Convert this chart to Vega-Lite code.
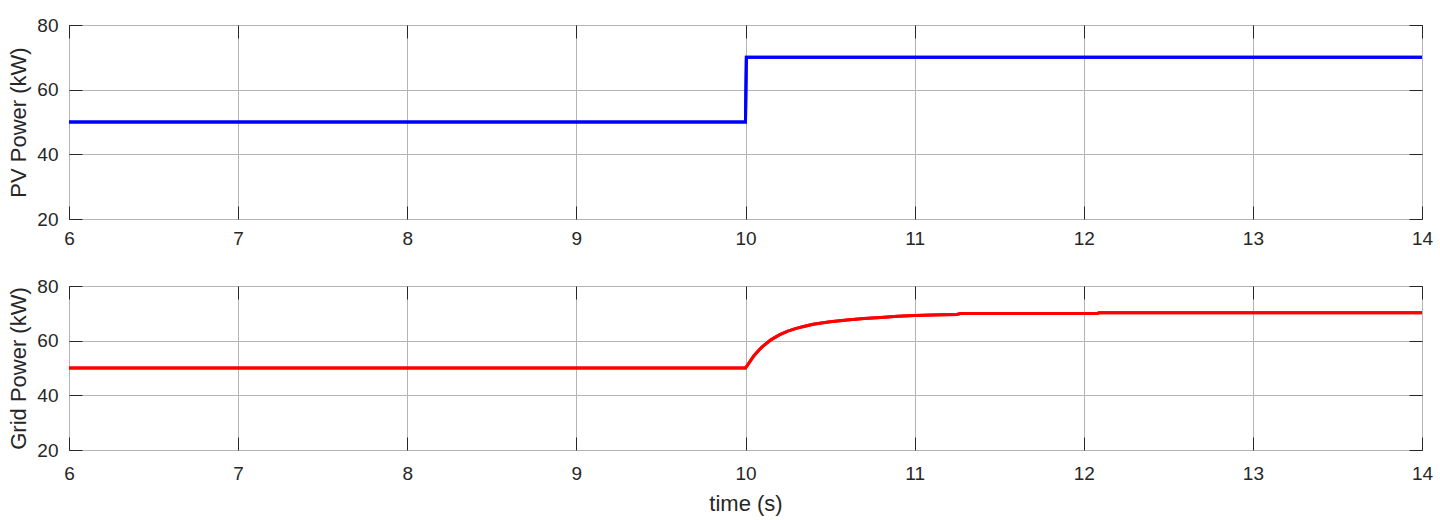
{
  "$schema": "https://vega.github.io/schema/vega-lite/v6.json",
  "background": "white",
  "padding": {"left": 6, "top": 15, "right": 5, "bottom": 5},
  "bounds": "flush",
  "spacing": 67,
  "config": {
    "view": {"stroke": "#262626", "strokeWidth": 1},
    "font": "Liberation Sans",
    "axis": {
      "labelFont": "Liberation Sans",
      "labelFontSize": 19,
      "labelColor": "#262626",
      "labelFlush": false,
      "titleFont": "Liberation Sans",
      "titleFontSize": 22,
      "titleFontWeight": "normal",
      "titleColor": "#262626",
      "domain": false,
      "gridColor": "#b4b4b4",
      "gridWidth": 1,
      "gridOpacity": 1,
      "tickColor": "#262626",
      "tickSize": -13,
      "tickWidth": 1
    }
  },
  "datasets": {
    "pv": [
      {"t": 6, "p": 50},
      {"t": 10, "p": 50},
      {"t": 10.005, "p": 70},
      {"t": 14, "p": 70}
    ],
    "grid": [
      {"t": 6, "p": 50},
      {"t": 10, "p": 50},
      {"t": 10.02, "p": 51.8},
      {"t": 10.05, "p": 54.5},
      {"t": 10.08, "p": 56.6},
      {"t": 10.1, "p": 57.8},
      {"t": 10.15, "p": 60.3},
      {"t": 10.2, "p": 62.1},
      {"t": 10.25, "p": 63.5},
      {"t": 10.3, "p": 64.5},
      {"t": 10.35, "p": 65.3},
      {"t": 10.4, "p": 66.0},
      {"t": 10.45, "p": 66.5},
      {"t": 10.5, "p": 66.9},
      {"t": 10.6, "p": 67.6},
      {"t": 10.7, "p": 68.1},
      {"t": 10.8, "p": 68.5},
      {"t": 10.9, "p": 68.9},
      {"t": 11.0, "p": 69.2},
      {"t": 11.1, "p": 69.4},
      {"t": 11.25, "p": 69.6},
      {"t": 11.27, "p": 69.9},
      {"t": 12.08, "p": 69.9},
      {"t": 12.09, "p": 70.2},
      {"t": 14, "p": 70.2}
    ]
  },
  "vconcat": [
    {
      "width": 1353,
      "height": 194,
      "data": {"name": "pv"},
      "layer": [
        {
          "mark": {"type": "line", "color": "#0000ff", "strokeWidth": 3},
          "encoding": {
            "x": {
              "field": "t", "type": "quantitative",
              "scale": {"domain": [6, 14], "nice": false},
              "axis": {"orient": "bottom", "values": [6, 7, 8, 9, 10, 11, 12, 13, 14], "title": null, "labelPadding": 23}
            },
            "y": {
              "field": "p", "type": "quantitative",
              "scale": {"domain": [20, 80], "nice": false, "zero": false},
              "axis": {"orient": "left", "values": [20, 40, 60, 80], "title": "PV Power (kW)", "labelPadding": 24, "titleX": -51, "titleY": 97, "titleBaseline": "middle"}
            }
          }
        },
        {
          "mark": {"type": "line", "color": "#0000ff", "strokeWidth": 3},
          "encoding": {
            "x": {
              "field": "t", "type": "quantitative",
              "scale": {"domain": [6, 14], "nice": false},
              "axis": {"orient": "top", "values": [6, 7, 8, 9, 10, 11, 12, 13, 14], "title": null, "labels": false, "grid": false}
            },
            "y": {
              "field": "p", "type": "quantitative",
              "scale": {"domain": [20, 80], "nice": false, "zero": false},
              "axis": {"orient": "right", "values": [20, 40, 60, 80], "title": null, "labels": false, "grid": false}
            }
          }
        }
      ],
      "resolve": {"axis": {"x": "independent", "y": "independent"}}
    },
    {
      "width": 1353,
      "height": 164,
      "data": {"name": "grid"},
      "layer": [
        {
          "mark": {"type": "line", "color": "#ff0000", "strokeWidth": 3},
          "encoding": {
            "x": {
              "field": "t", "type": "quantitative",
              "scale": {"domain": [6, 14], "nice": false},
              "axis": {"orient": "bottom", "values": [6, 7, 8, 9, 10, 11, 12, 13, 14], "title": "time (s)", "labelPadding": 27, "titlePadding": 10}
            },
            "y": {
              "field": "p", "type": "quantitative",
              "scale": {"domain": [20, 80], "nice": false, "zero": false},
              "axis": {"orient": "left", "values": [20, 40, 60, 80], "title": "Grid Power (kW)", "labelPadding": 24, "titleX": -51, "titleY": 82, "titleBaseline": "middle"}
            }
          }
        },
        {
          "mark": {"type": "line", "color": "#ff0000", "strokeWidth": 3},
          "encoding": {
            "x": {
              "field": "t", "type": "quantitative",
              "scale": {"domain": [6, 14], "nice": false},
              "axis": {"orient": "top", "values": [6, 7, 8, 9, 10, 11, 12, 13, 14], "title": null, "labels": false, "grid": false}
            },
            "y": {
              "field": "p", "type": "quantitative",
              "scale": {"domain": [20, 80], "nice": false, "zero": false},
              "axis": {"orient": "right", "values": [20, 40, 60, 80], "title": null, "labels": false, "grid": false}
            }
          }
        }
      ],
      "resolve": {"axis": {"x": "independent", "y": "independent"}}
    }
  ]
}
